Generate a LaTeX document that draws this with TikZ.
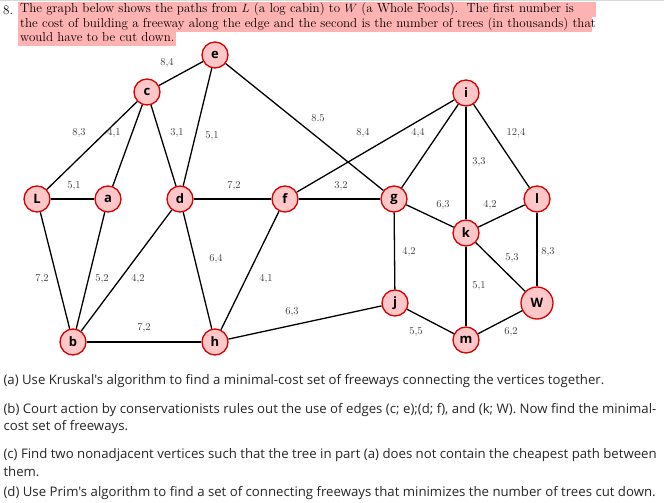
\documentclass[tikz,border=0pt]{standalone}
\usepackage{fontspec}
\newfontfamily\osans{Open Sans}
\begin{document}
\begin{tikzpicture}[x=1pt,y=-1pt,
 vx/.style={circle,draw=red!85!black,line width=1.3pt,fill=red!22,minimum size=26pt,inner sep=0pt,font=\osans\bfseries\fontsize{13}{13}\selectfont},
 el/.style={font=\fontsize{10.5}{10.5}\selectfont,text=black!75},
 ed/.style={line width=1.3pt},
 qt/.style={anchor=west,font=\osans\fontsize{13.2}{14}\selectfont,text=black!85}]
\useasboundingbox (0,0) rectangle (664,503);
\fill[red!30] (18,2) rectangle (596,17);
\fill[red!30] (18,17) rectangle (592,32);
\fill[red!30] (18,32) rectangle (176,46);
\draw[black!15] (0,0.5) -- (664,0.5);
\node[anchor=west,inner sep=0pt,font=\fontsize{13}{14.5}\selectfont] (t0) at (3,10) {8.};
\node[anchor=north west,inner sep=0pt,align=left,font=\fontsize{13}{14.3}\selectfont] (t1) at (20,3) {The graph below shows the paths from $L$ (a log cabin) to $W$ (a Whole Foods).\ \ The first number is\\ the cost of building a freeway along the edge and the second is the number of trees (in thousands) that\\ would have to be cut down.};
\node[vx] (e) at (215,55) {e};
\node[vx] (c) at (147,92) {c};
\node[vx] (L) at (37,199) {L};
\node[vx] (a) at (108,199) {a};
\node[vx] (d) at (180,199) {d};
\node[vx] (f) at (285,199) {f};
\node[vx] (g) at (394,199) {g};
\node[vx] (i) at (466,93) {i};
\node[vx] (l) at (537,199) {l};
\node[vx] (k) at (466,233) {k};
\node[vx] (j) at (395,303) {j};
\node[vx,minimum size=32pt] (W) at (537,303) {W};
\node[vx] (m) at (466,340) {m};
\node[vx] (b) at (73,342) {b};
\node[vx] (h) at (215,342) {h};
\foreach \u/\v in {L/c,L/a,L/b,c/e,c/a,c/d,e/d,e/g,a/b,d/b,d/f,d/h,f/i,f/g,f/h,h/j,b/h,g/i,g/k,g/j,i/k,i/l,k/l,k/m,k/W,l/W,j/m,m/W}
  \draw[ed] (\u) -- (\v);
\node[el] (l1) at (167,63) {8,4};
\node[el] (l2) at (79,133) {8,3};
\node[el] (l3) at (114,133) {4,1};
\node[el] (l4) at (177,133) {3,1};
\node[el] (l5) at (212,136) {5,1};
\node[el] (l6) at (318,118) {8.5};
\node[el] (l7) at (74,186) {5,1};
\node[el] (l8) at (234,186) {7,2};
\node[el] (l9) at (216,259) {6,4};
\node[el] (l10) at (42,279) {7,2};
\node[el] (l11) at (102,279) {5,2};
\node[el] (l12) at (138,279) {4,2};
\node[el] (l13) at (266,279) {4,1};
\node[el] (l14) at (292,312) {6,3};
\node[el] (l15) at (144,328) {7,2};
\node[el] (l16) at (363,133) {8,4};
\node[el] (l17) at (418,133) {4,4};
\node[el] (l18) at (516,133) {12,4};
\node[el] (l19) at (479,162) {3,3};
\node[el] (l20) at (341,186) {3,2};
\node[el] (l21) at (443,205) {6,3};
\node[el] (l22) at (490,205) {4,2};
\node[el] (l23) at (409,252) {4,2};
\node[el] (l24) at (512,258) {5,3};
\node[el] (l25) at (548,252) {8,3};
\node[el] (l26) at (479,286) {5,1};
\node[el] (l27) at (416,332) {5,5};
\node[el] (l28) at (511,332) {6,2};
\node[qt] (q1) at (0,381) {(a) Use Kruskal's algorithm to find a minimal-cost set of freeways connecting the vertices together.};
\node[qt] (q2) at (0,410) {(b) Court action by conservationists rules out the use of edges (c; e);(d; f), and (k; W). Now find the minimal-};
\node[qt] (q3) at (0,427) {cost set of freeways.};
\node[qt] (q4) at (0,455) {(c) Find two nonadjacent vertices such that the tree in part (a) does not contain the cheapest path between};
\node[qt] (q5) at (0,472) {them.};
\node[qt] (q6) at (0,493) {(d) Use Prim's algorithm to find a set of connecting freeways that minimizes the number of trees cut down.};
\end{tikzpicture}
\end{document}
